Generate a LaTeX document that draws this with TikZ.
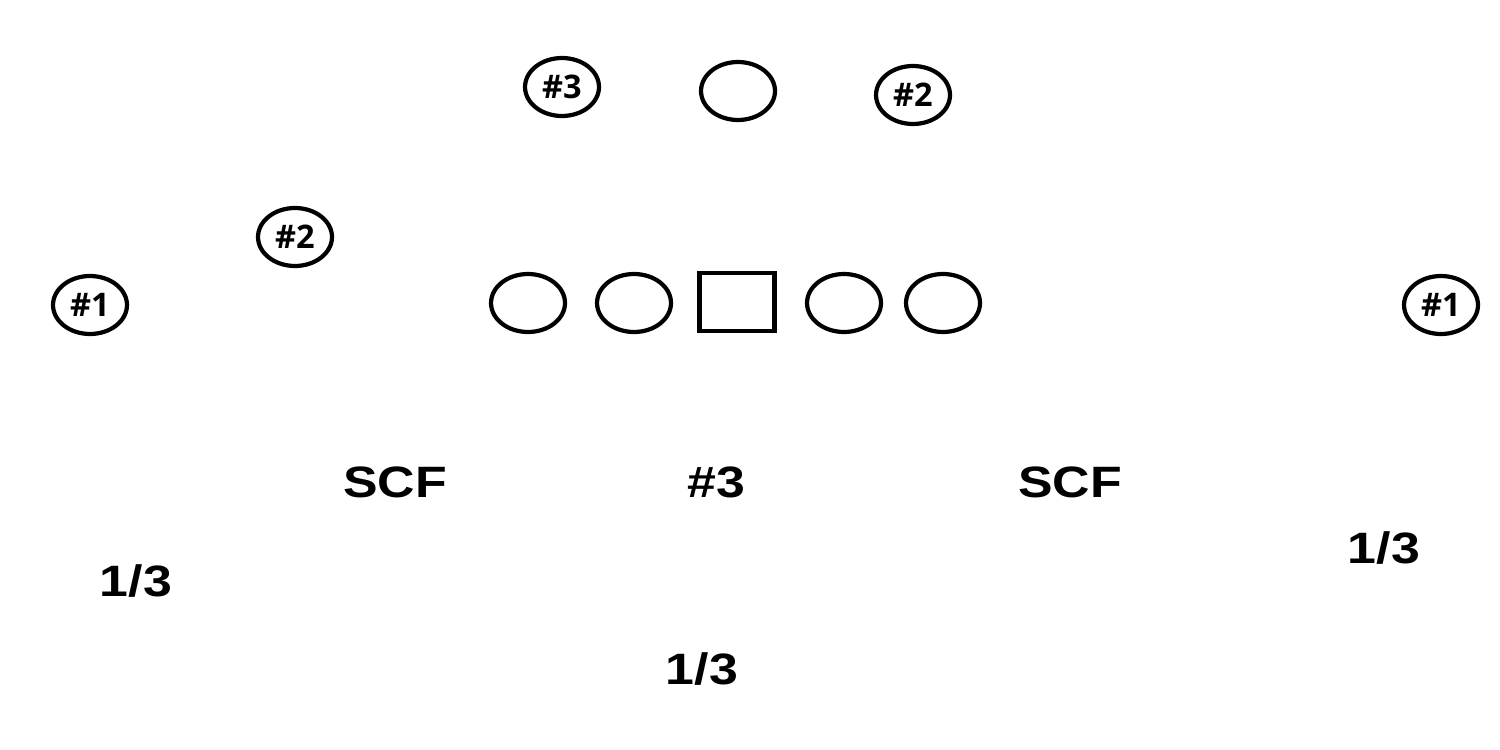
\documentclass[tikz,border=0pt]{standalone}
\usepackage{fontspec}
\setmainfont{Liberation Sans}
\newfontfamily\labfont{Open Sans}
\usetikzlibrary{shapes.geometric}
\begin{document}
\begin{tikzpicture}[x=0.02cm,y=-0.02cm,
  player/.style={ellipse,draw,line width=2.4pt,minimum width=1.48cm,minimum height=1.16cm,inner sep=0pt,font=\labfont\bfseries\fontsize{18.5}{20}\selectfont},
  center/.style={rectangle,draw,line width=2.4pt,minimum width=1.50cm,minimum height=1.16cm,inner sep=0pt},
  zone/.style={font=\bfseries\fontsize{25}{30}\selectfont,inner sep=0pt,xscale=1.18}]
\useasboundingbox (0,0) rectangle (1500,750);
% backfield
\node[player] (b3) at (562,87) {\#3};
\node[player] (qb) at (738,91) {};
\node[player] (b2) at (913,95) {\#2};
% line
\node[player] (lt) at (528,303) {};
\node[player] (lg) at (634,303) {};
\node[center] (c) at (737,302) {};
\node[player] (rg) at (844,303) {};
\node[player] (rt) at (943,303) {};
% receivers
\node[player] (l2) at (295,237) {\#2};
\node[player] (l1) at (90,305) {\#1};
\node[player] (r1) at (1441,305) {\#1};
% defense labels
\node[zone] (scfl) at (395,482) {SCF};
\node[zone] (d3) at (716,482) {\#3};
\node[zone] (scfr) at (1070,482) {SCF};
\node[zone] (tr) at (1384,548) {1/3};
\node[zone] (tl) at (136,581) {1/3};
\node[zone] (tm) at (702,669) {1/3};
\end{tikzpicture}
\end{document}
